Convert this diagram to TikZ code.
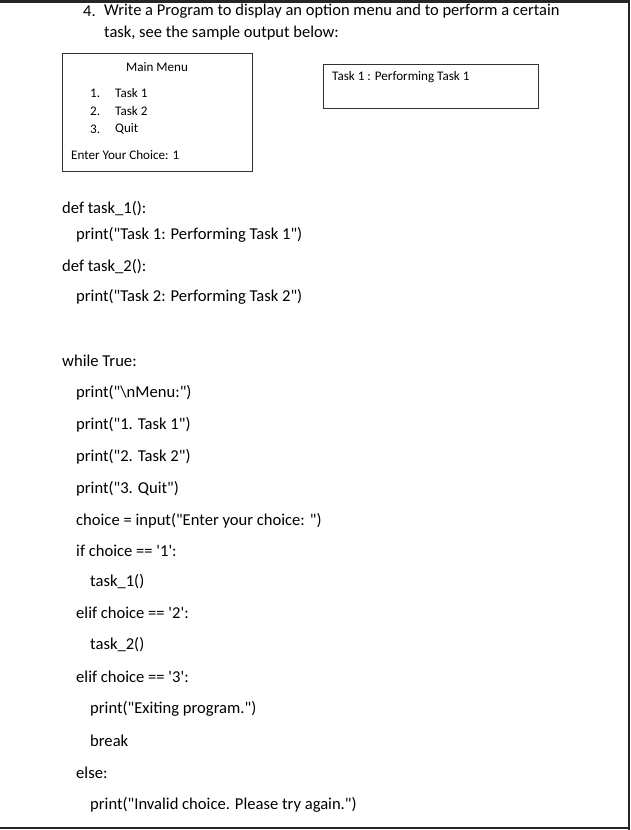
\documentclass[tikz,border=0pt]{standalone}
\usepackage{fontspec}
\setmainfont{Carlito}
\newfontfamily\codefont{Carlito}
\begin{document}
\begin{tikzpicture}[x=1pt,y=-1pt,
  big/.style={anchor=west,inner sep=0pt,font=\fontsize{16.5}{19}\selectfont},
  code/.style={anchor=west,inner sep=0pt,font=\codefont\fontsize{16.6}{19}\selectfont},
  small/.style={anchor=west,inner sep=0pt,font=\fontsize{13.1}{15}\selectfont},
  boxline/.style={draw=black!80,line width=0.9pt}]
\useasboundingbox (0,0) rectangle (630,830);
\fill[black!85] (0,0) rectangle (630,3);
\draw[line width=2pt,black!85] (629,0) -- (629,830);
\draw[line width=2.5pt,black!85] (0,828) -- (630,828);
% title
\node[big] (n4) at (83,11) {4.};
\node[big] (t1) at (104,11) {Write a Program to display an option menu and to perform a certain};
\node[big] (t2) at (104,33) {task, see the sample output below:};
% boxes
\node[boxline,minimum width=190pt,minimum height=118pt,inner sep=0pt] (menu) at (157,112) {};
\node[boxline,minimum width=215pt,minimum height=44pt,inner sep=0pt] (out) at (430.5,86) {};
\node[small,anchor=center] (mm) at (157,67) {Main Menu};
\node[small] (i1) at (90,93) {1.};\node[small] (i1t) at (115,93) {Task 1};
\node[small] (i2) at (90,111) {2.};\node[small] (i2t) at (115,111) {Task 2};
\node[small] (i3) at (90,129) {3.};\node[small] (i3t) at (115,129) {Quit};
\node[small] (ch) at (71,155) {Enter Your Choice: 1};
\node[small] (o1) at (332,77) {Task 1 : Performing Task 1};
% code
\node[code] (c1) at (62,209) {def task\_1():};
\node[code] (c2) at (76,235) {print("Task 1: Performing Task 1")};
\node[code] (c3) at (62,267) {def task\_2():};
\node[code] (c4) at (76,297) {print("Task 2: Performing Task 2")};
\node[code] (c5) at (62,361) {while True:};
\node[code] (c6) at (76,393) {print("\symbol{92}nMenu:")};
\node[code] (c7) at (76,425) {print("1. Task 1")};
\node[code] (c8) at (76,457) {print("2. Task 2")};
\node[code] (c9) at (76,489) {print("3. Quit")};
\node[code] (c10) at (76,521) {choice = input("Enter your choice: ")};
\node[code] (c11) at (76,551) {if choice == '1':};
\node[code] (c12) at (90,582) {task\_1()};
\node[code] (c13) at (76,613) {elif choice == '2':};
\node[code] (c14) at (90,645) {task\_2()};
\node[code] (c15) at (76,677) {elif choice == '3':};
\node[code] (c16) at (90,709) {print("Exiting program.")};
\node[code] (c17) at (90,741) {break};
\node[code] (c18) at (76,773) {else:};
\node[code] (c19) at (90,805) {print("Invalid choice. Please try again.")};
\end{tikzpicture}
\end{document}
